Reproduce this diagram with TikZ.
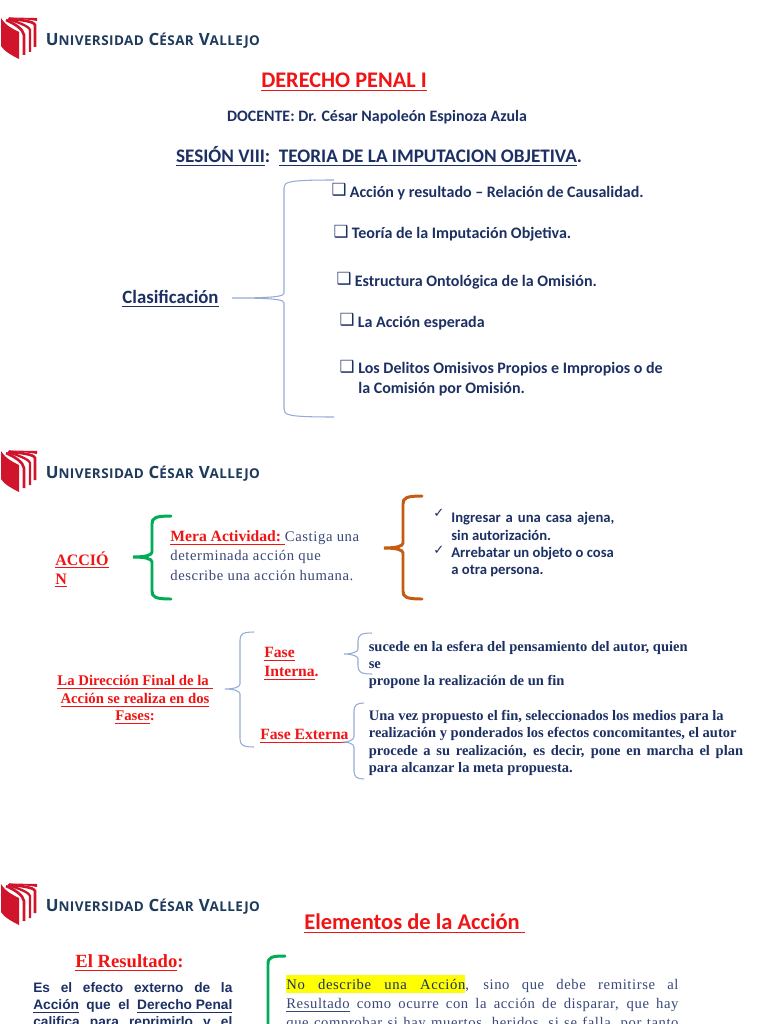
\documentclass[tikz,border=0pt]{standalone}
\usepackage{fontspec}
\setmainfont{Carlito}
\newfontfamily\tnrfont[LetterSpace=4]{Liberation Serif}
\newfontfamily\tnrboldfont{Liberation Serif}[BoldFont=Liberation Serif Bold]
\newfontfamily\arialfont{Liberation Sans}
\newfontfamily\symfont{DejaVu Sans}
\newfontfamily\wordfont[LetterSpace=3]{Open Sans}
\usetikzlibrary{
    positioning,
    calc
}
\definecolor{navycolor}{RGB}{28, 48, 100}
\definecolor{slatecolor}{RGB}{58, 72, 122}
\definecolor{redcolor}{RGB}{240, 20, 20}
\definecolor{logored}{RGB}{208, 20, 44}
\definecolor{wordcolor}{RGB}{30, 58, 92}
\definecolor{thincolor}{RGB}{150, 172, 215}
\definecolor{greencolor}{RGB}{0, 172, 85}
\definecolor{orangecolor}{RGB}{197, 90, 17}
\definecolor{hlcolor}{RGB}{255, 255, 0}

% brace: style, tip, spine offset, end offset, rise, fall
\newcommand{\bracket}[6]{
    \begin{scope}[shift={(#2)}]
        \draw[#1] (#4,-#5) .. controls (#3+3,-#5) and (#3,-#5+2) .. (#3,-#5+8)
            -- (#3,-5) .. controls (#3,-2) and (#3-6,0) .. (0,0)
            .. controls (#3-6,0) and (#3,2) .. (#3,5)
            -- (#3,#6-8) .. controls (#3,#6-2) and (#3+3,#6) .. (#4,#6);
    \end{scope}
}
\newcommand{\fullline}[2]{\makebox[#1][s]{#2}}

\begin{document}
\begin{tikzpicture}[
    x=0.02cm, y=-0.02cm,
    % Logo
    uvlogo/.pic={
        \fill[logored] (0,0) .. controls (5,8) and (12,11) .. (18,14) -- (18,41)
            .. controls (10,37) and (3,33) .. (0,28) -- cycle;
        \draw[logored, line width=1.5pt] (23,37) -- (23,17) .. controls (22,11) and (14,6) .. (5,2);
        \draw[logored, line width=1.3pt] (29,34) -- (29,12) .. controls (28,8) and (16,4) .. (7,1);
        \draw[logored, line width=1.5pt] (34,29) -- (34,7) .. controls (33,3) and (18,2) .. (8,0.5);
        \fill[logored] (9,-0.5) -- (36,0) -- (36,3) .. controls (28,1.5) and (18,1) .. (9,-0.5);
        \node[wordname] (-word) at (44.5,22.5)
            {U\scalebox{0.8}{NIVERSIDAD} C\scalebox{0.8}{ÉSAR} V\scalebox{0.8}{ALLEJO}};
    },
    wordname/.style={
        anchor=west, inner sep=0pt, text=wordcolor,
        font=\wordfont\fontsize{9.6}{11}\selectfont\bfseries
    },
    % Calibri headings
    heading/.style={
        inner sep=0pt, text=#1,
        font=\fontsize{11.6}{14}\selectfont\bfseries
    },
    % Calibri body
    bodytext/.style={
        anchor=west, inner sep=0pt, align=left, text=navycolor,
        font=\fontsize{#1}{#1}\selectfont\bfseries
    },
    bullet/.style={
        inner sep=0pt, text=navycolor,
        font=\symfont\fontsize{9.5}{11}\selectfont
    },
    % Serif red labels
    redlabel/.style={
        inner sep=0pt, align=center, text=redcolor,
        font=\tnrboldfont\fontsize{8.9}{10.8}\selectfont\bfseries
    },
    % Serif navy paragraph
    darkpara/.style={
        anchor=west, inner sep=0pt, align=left, text=navycolor,
        font=\tnrboldfont\fontsize{8.25}{9.85}\selectfont\bfseries
    },
    slatepara/.style={
        anchor=west, inner sep=0pt, align=left, text=slatecolor,
        font=\tnrfont\fontsize{8.35}{11}\selectfont
    },
    % Braces
    thinbrace/.style={draw=thincolor, line width=0.6pt},
    boldbrace/.style={draw=#1, line width=1.7pt, line cap=round}
]
\clip (0,0) rectangle (768,1024);
\fill[white] (0,0) rectangle (768,1024);

% ============================================
% FIRST SLIDE
% ============================================

\pic (logoA) at (1,18) {uvlogo};

\node[heading=redcolor, font=\fontsize{12.7}{14}\selectfont\bfseries] (titulo) at (344,82.5) {\underline{DERECHO PENAL I}};
\node[heading=navycolor, font=\fontsize{9.06}{10}\selectfont\bfseries] (docente) at (377,117) {DOCENTE: Dr. César Napoleón Espinoza Azula};
\node[heading=navycolor, font=\fontsize{10.9}{12}\selectfont\bfseries] (sesion) at (379,156.5)
    {\underline{SESIÓN VIII}:\ \ \underline{TEORIA DE LA IMPUTACION OBJETIVA}.};

\node[heading=navycolor, font=\fontsize{10.7}{12}\selectfont\bfseries] (clasif) at (170.5,298.5) {\underline{Clasificación}};
\coordinate (clasTip) at (232,298);
\bracket{thinbrace}{clasTip}{52}{102}{118}{119}

\node[bullet] (chkA) at (339,190) {❑};
\node[bodytext=9.1, right=1.5pt of chkA, yshift=-1.7pt] (itemA) {Acción y resultado – Relación de Causalidad.};
\node[bullet] (chkB) at (341,232) {❑};
\node[bodytext=9.1, right=1.5pt of chkB, yshift=-1.1pt] (itemB) {Teoría de la Imputación Objetiva.};
\node[bullet] (chkC) at (344,279) {❑};
\node[bodytext=9.1, right=1.5pt of chkC, yshift=-1.7pt] (itemC) {Estructura Ontológica de la Omisión.};
\node[bullet] (chkD) at (347,320) {❑};
\node[bodytext=9.1, right=1.5pt of chkD, yshift=-1.7pt] (itemD) {La Acción esperada};
\node[bullet] (chkE) at (347,367) {❑};
\node[bodytext=9.1, anchor=west] (itemE) at (358,369) {Los Delitos Omisivos Propios e Impropios o de};
\node[bodytext=9.1, anchor=west] (itemF) at (358,389) {la Comisión por Omisión.};

% ============================================
% SECOND SLIDE
% ============================================

\pic (logoB) at (1,451) {uvlogo};

\node[redlabel, anchor=west, font=\tnrboldfont\fontsize{9.1}{10.8}\selectfont\bfseries, align=left] (accion) at (55,569.5)
    {\underline{ACCIÓ}\\\underline{N}};
\coordinate (accionTip) at (133,557);
\bracket{boldbrace=greencolor}{accionTip}{19}{38}{41}{42}

\node[slatepara] (mera) at (170,555.5)
    {{\tnrboldfont\fontsize{8.9}{11}\selectfont\bfseries\color{redcolor}\underline{Mera Actividad:\ }}Castiga una\\
     determinada acción que\\
     describe una acción humana.};

\coordinate (meraTip) at (384,548);
\bracket{boldbrace=orangecolor}{meraTip}{19}{38}{52}{51}

\node[bullet, font=\symfont\fontsize{7.5}{8}\selectfont] (tickA) at (439,513) {✓};
\node[bullet, font=\symfont\fontsize{7.5}{8}\selectfont] (tickB) at (439,550) {✓};
\node[bodytext=8.35, anchor=west] (ingresar) at (451,519) {\fullline{92.8pt}{Ingresar a una casa ajena,}};
\node[bodytext=8.35, anchor=west] (sinaut) at (451,535.5) {sin autorización.};
\node[bodytext=8.35, anchor=west] (arrebatar) at (451,553.5) {Arrebatar un objeto o cosa};
\node[bodytext=8.35, anchor=west] (aotra) at (451,571.5) {a otra persona.};

\node[redlabel, font=\tnrboldfont\fontsize{8.4}{9.9}\selectfont\bfseries] (direccion) at (135,700)
    {\underline{La Dirección Final de la\ }\\\underline{Acción se realiza en dos}\\\underline{Fases}:};
\coordinate (direccionTip) at (225,689);
\bracket{thinbrace}{direccionTip}{15}{29}{57}{58}

\node[redlabel, anchor=west, align=left] (interna) at (264,663.5) {\underline{Fase}\\\underline{Interna}.};
\node[redlabel, anchor=west] (externa) at (260,736.5) {\underline{Fase Externa}};

\coordinate (internaTip) at (344,654);
\bracket{thinbrace}{internaTip}{14}{28}{21}{20}
\coordinate (externaTip) at (344,742);
\bracket{thinbrace}{externaTip}{10}{20}{39}{37}

\node[darkpara] (sucede) at (368.5,665)
    {sucede en la esfera del pensamiento del autor, quien\\se\\propone la realización de un fin};
\node[darkpara] (unavez) at (368.5,743)
    {Una vez propuesto el fin, seleccionados los medios para la\\
     realización y ponderados los efectos concomitantes, el autor\\
     \fullline{213pt}{procede a su realización, es decir, pone en marcha el plan}\\
     para alcanzar la meta propuesta.};

% ============================================
% THIRD SLIDE
% ============================================

\pic (logoC) at (1,884) {uvlogo};

\node[heading=redcolor, anchor=west, font=\fontsize{12.8}{14}\selectfont\bfseries] (elementos) at (304,923.5) {\underline{Elementos de la Acción\ }};

\node[redlabel, font=\tnrboldfont\fontsize{10.6}{12}\selectfont\bfseries] (resultado) at (129.5,963) {\underline{El Resultado}:};

\node[anchor=west, inner sep=0pt, align=left, text=navycolor, font=\arialfont\fontsize{7.8}{9.7}\selectfont\bfseries] (efecto) at (33,1006)
    {\fullline{113.3pt}{Es el efecto externo de la}\\
     \fullline{113.3pt}{\underline{Acción} que el \underline{Derecho Penal}}\\
     \fullline{113.3pt}{califica para reprimirlo y el}};

\node[fill=hlcolor, anchor=west, inner sep=0pt, minimum width=101.9pt, minimum height=10.4pt] (hlbar) at (286,984) {};
\node[slatepara] (describe) at (286,1005)
    {\makebox[101.9pt][s]{\color{navycolor}No describe una Acción}\fullline{121.3pt}{, sino que debe remitirse al}\\
     \fullline{223.2pt}{\underline{Resultado} como ocurre con la acción de disparar, que hay}\\
     \fullline{223.2pt}{que comprobar si hay muertos, heridos, si se falla, por tanto}};

\coordinate (greenTop) at (285,956);
\coordinate (greenBot) at (268,1030);
\draw[boldbrace=greencolor] (greenTop) .. controls (272,956) and (268,957) .. (268,964) -- (greenBot);

\end{tikzpicture}
\end{document}
